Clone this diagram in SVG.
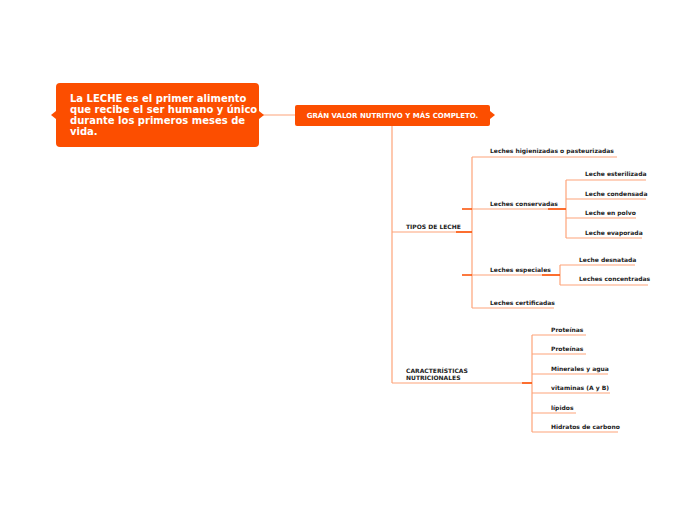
<svg xmlns="http://www.w3.org/2000/svg" width="697" height="520" viewBox="0 0 697 520">
<style>
.l{fill:none;stroke:#fda47a;stroke-width:1.2}
.t{font-family:"DejaVu Sans",Verdana,sans-serif;font-weight:bold;font-size:6px;fill:#222}
.box{fill:#fc4e00}
.w{font-family:"DejaVu Sans",Verdana,sans-serif;font-weight:bold;fill:#fff}
</style>
<rect width="697" height="520" fill="#fff"/>
<g id="connectors">
<path class="l" d="M259 115H295 M392 126V383 M392 232H472 M472 157V308 M472 157H617 M472 209H566 M472 275H560 M472 308H554 M566 180V238 M566 180H646 M566 199H646 M566 218H636 M566 238H642 M560 265V285 M560 265H635 M560 285H648 M392 383H532 M532 335V432 M532 335H586 M532 354H586 M532 374H608 M532 393H610 M532 413H576 M532 432H618"/>
<path d="M456 232H472 M462 209H472 M548 209H566 M462 275H472 M542 275H560 M522 383H532" stroke="#fc4e00" stroke-width="1.4"/>
</g>
<g id="root">
<rect class="box" x="56" y="83" width="203" height="64" rx="4"/>
<path class="box" d="M56 111L51 115L56 119Z M259 111L264 115L259 119Z"/>
<text class="w" font-size="10"><tspan x="70" y="102">La LECHE es el primer alimento</tspan><tspan x="70" y="113">que recibe el ser humano y único</tspan><tspan x="70" y="124">durante los primeros meses de</tspan><tspan x="70" y="135">vida.</tspan></text>
</g>
<g id="central">
<rect class="box" x="295" y="105" width="195" height="21" rx="2"/>
<path class="box" d="M490 111L495 115L490 119Z"/>
<text class="w" font-size="7" x="392.5" y="118" text-anchor="middle">GRÁN VALOR NUTRITIVO Y MÁS COMPLETO.</text>
</g>
<g id="tipos"><text class="t" x="406" y="229">TIPOS DE LECHE</text></g>
<g id="n1"><text class="t" x="490" y="153">Leches higienizadas o pasteurizadas</text></g>
<g id="n2"><text class="t" x="490" y="206">Leches conservadas</text></g>
<g id="n3"><text class="t" x="585" y="176">Leche esterilizada</text></g>
<g id="n4"><text class="t" x="585" y="196">Leche condensada</text></g>
<g id="n5"><text class="t" x="585" y="215">Leche en polvo</text></g>
<g id="n6"><text class="t" x="585" y="235">Leche evaporada</text></g>
<g id="n7"><text class="t" x="490" y="272">Leches especiales</text></g>
<g id="n8"><text class="t" x="579" y="262">Leche desnatada</text></g>
<g id="n9"><text class="t" x="579" y="281">Leches concentradas</text></g>
<g id="n10"><text class="t" x="490" y="305">Leches certificadas</text></g>
<g id="car"><text class="t"><tspan x="406" y="373">CARACTERÍSTICAS</tspan><tspan x="406" y="380">NUTRICIONALES</tspan></text></g>
<g id="c1"><text class="t" x="551" y="332">Proteínas</text></g>
<g id="c2"><text class="t" x="551" y="351">Proteínas</text></g>
<g id="c3"><text class="t" x="551" y="371">Minerales y agua</text></g>
<g id="c4"><text class="t" x="551" y="390">vitaminas (A y B)</text></g>
<g id="c5"><text class="t" x="551" y="410">lípidos</text></g>
<g id="c6"><text class="t" x="551" y="429">Hidratos de carbono</text></g>
</svg>
